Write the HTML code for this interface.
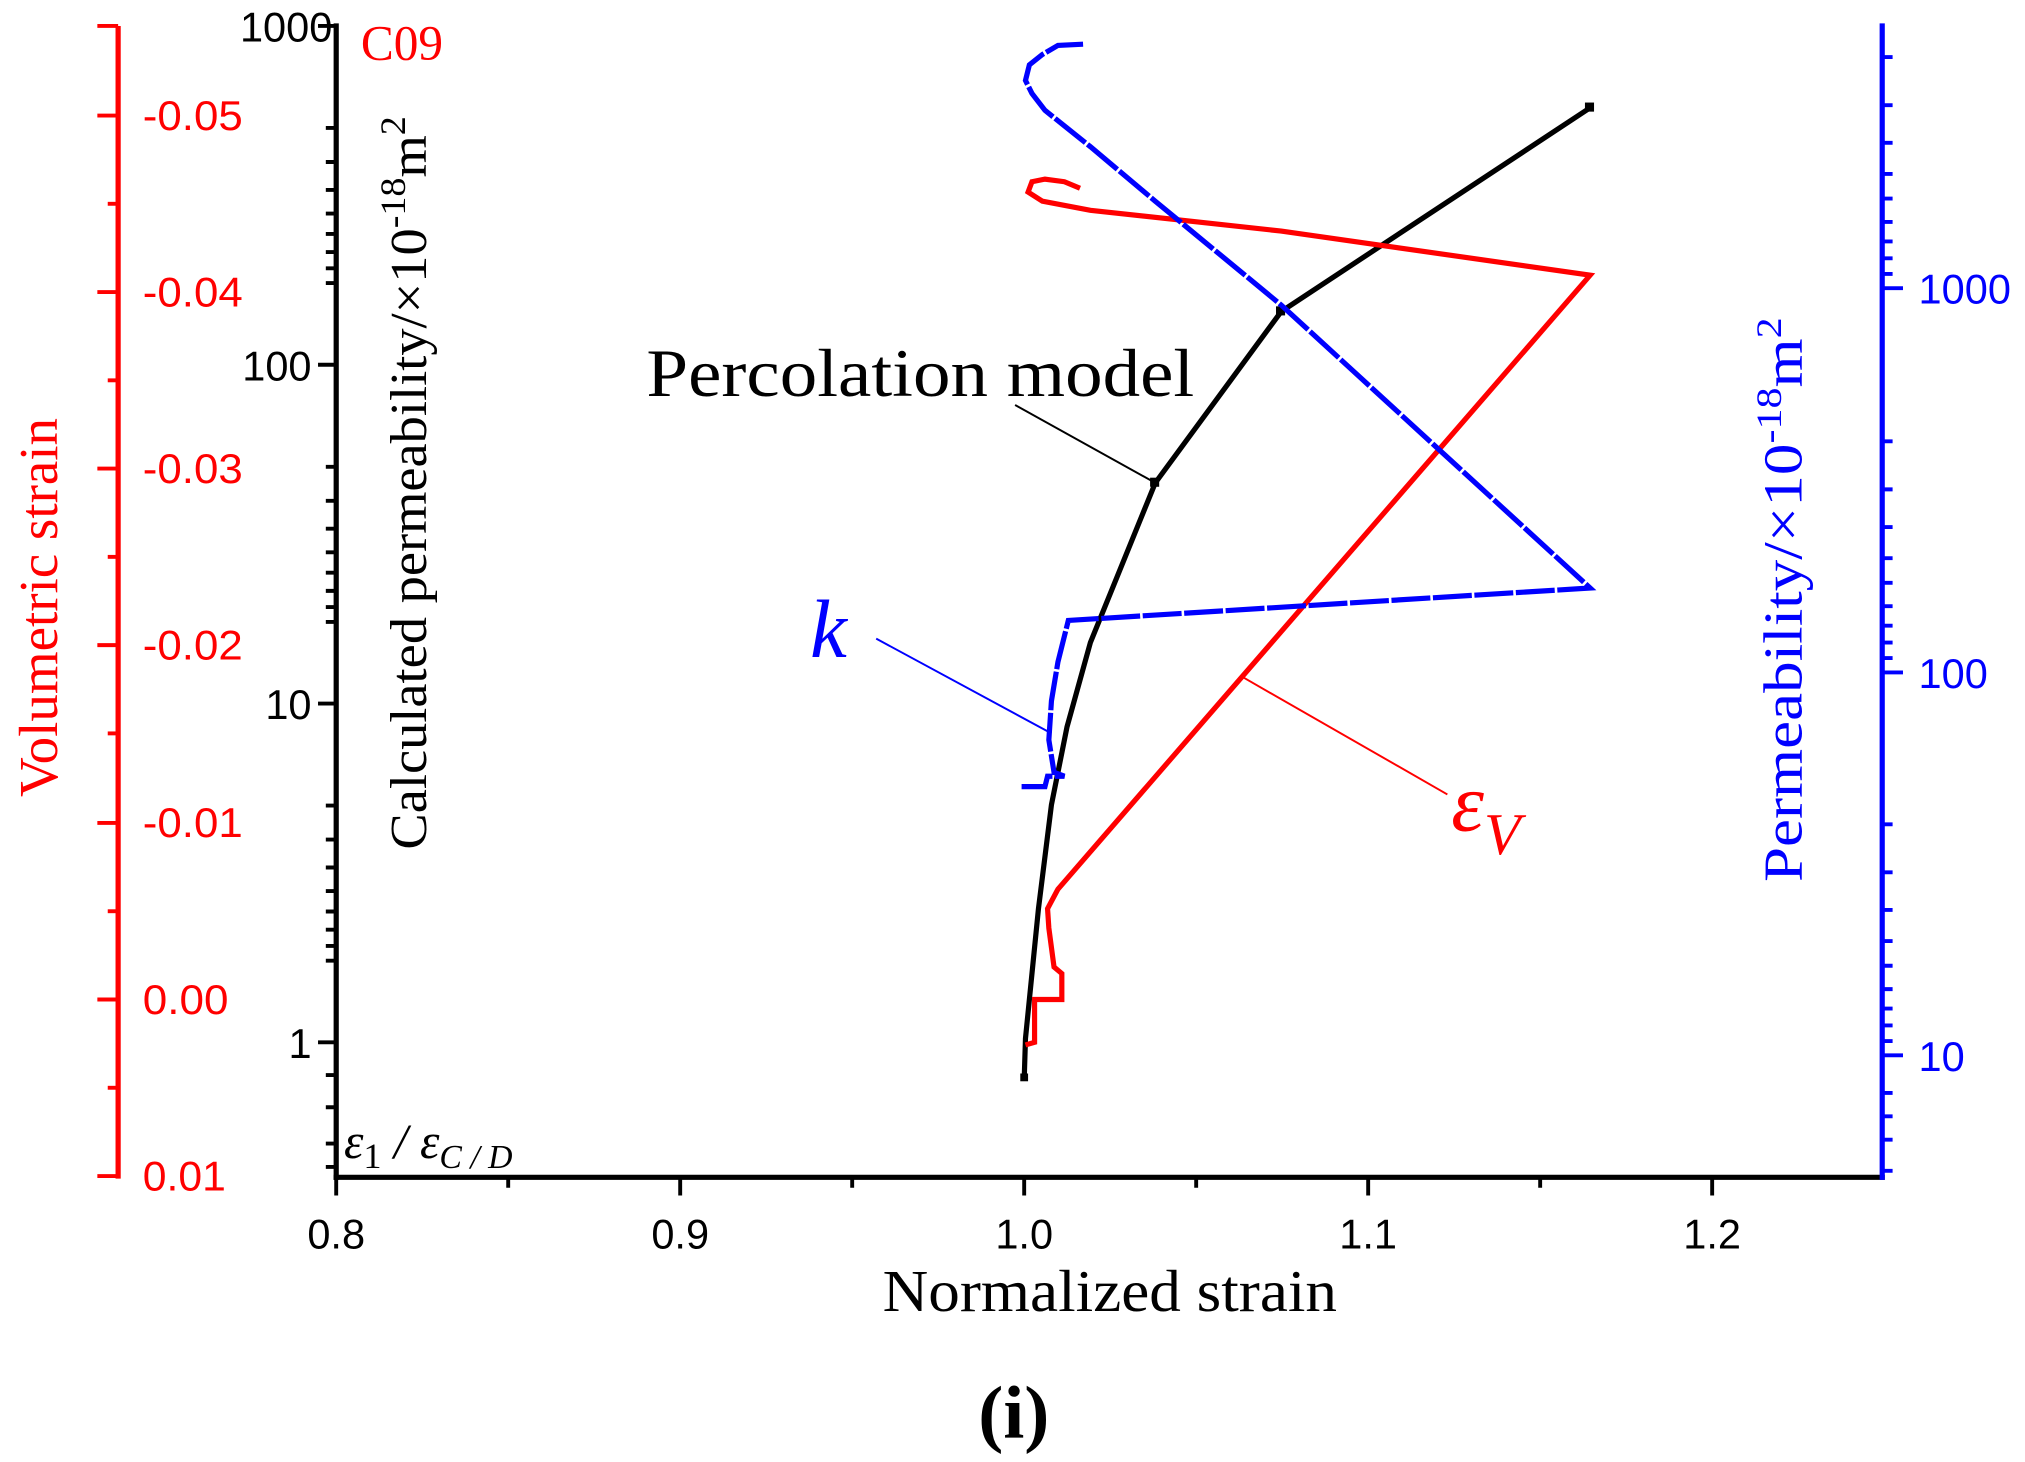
<!DOCTYPE html>
<html><head><meta charset="utf-8"><style>html,body{margin:0;padding:0;background:#fff}svg{display:block}</style></head>
<body>
<svg width="2025" height="1462" viewBox="0 0 1560 1126.3" preserveAspectRatio="none" xmlns="http://www.w3.org/2000/svg">
<g font-family="Liberation Sans, Arial, sans-serif" font-size="32">
<!-- red axis -->
<line x1="91" y1="20" x2="91" y2="908" stroke="#f00" stroke-width="4"/>
<g stroke="#f00" stroke-width="3">
<line x1="75" y1="20" x2="91" y2="20"/>
<line x1="75" y1="89" x2="91" y2="89"/><line x1="83" y1="157" x2="91" y2="157"/>
<line x1="75" y1="225" x2="91" y2="225"/><line x1="83" y1="293" x2="91" y2="293"/>
<line x1="75" y1="361" x2="91" y2="361"/><line x1="83" y1="429" x2="91" y2="429"/>
<line x1="75" y1="497" x2="91" y2="497"/><line x1="83" y1="565" x2="91" y2="565"/>
<line x1="75" y1="634" x2="91" y2="634"/><line x1="83" y1="702" x2="91" y2="702"/>
<line x1="75" y1="770" x2="91" y2="770"/><line x1="83" y1="838" x2="91" y2="838"/>
<line x1="75" y1="906" x2="91" y2="906"/>
</g>
<g fill="#f00">
<text x="110" y="100" textLength="77" lengthAdjust="spacingAndGlyphs">-0.05</text><text x="110" y="236" textLength="77" lengthAdjust="spacingAndGlyphs">-0.04</text><text x="110" y="372" textLength="77" lengthAdjust="spacingAndGlyphs">-0.03</text>
<text x="110" y="508" textLength="77" lengthAdjust="spacingAndGlyphs">-0.02</text><text x="110" y="645" textLength="77" lengthAdjust="spacingAndGlyphs">-0.01</text><text x="110" y="781" textLength="66" lengthAdjust="spacingAndGlyphs">0.00</text><text x="110" y="917" textLength="64" lengthAdjust="spacingAndGlyphs">0.01</text>
</g>
<text transform="translate(44,468) rotate(-90)" fill="#f00" font-family="Liberation Serif, serif" font-size="42" text-anchor="middle" textLength="292" lengthAdjust="spacingAndGlyphs">Volumetric strain</text>

<!-- black left axis -->
<line x1="259" y1="18" x2="259" y2="909" stroke="#000" stroke-width="4"/>
<g stroke="#000" stroke-width="3">
<line x1="245" y1="20" x2="259" y2="20"/><line x1="245" y1="281" x2="259" y2="281"/>
<line x1="245" y1="542" x2="259" y2="542"/><line x1="245" y1="803" x2="259" y2="803"/>
<path d="M251 98.6h8M251 124.8h8M251 146.3h8M251 164.5h8M251 180.2h8M251 194.2h8M251 206.7h8M251 218.1h8 M251 359.6h8M251 385.8h8M251 407.3h8M251 425.5h8M251 441.2h8M251 455.2h8M251 467.7h8M251 479.1h8 M251 620.6h8M251 646.8h8M251 668.3h8M251 686.5h8M251 702.2h8M251 716.2h8M251 728.7h8M251 740.1h8 M251 828.2h8M251 853h8M251 881h8M251 899h8"/>
</g>
<g text-anchor="end"><text x="256" y="32">1000</text><text x="240" y="293">100</text><text x="240" y="554">10</text><text x="240" y="815">1</text></g>
<text transform="translate(328,372) rotate(-90)" font-family="Liberation Serif, serif" font-size="40" text-anchor="middle" textLength="565" lengthAdjust="spacingAndGlyphs">Calculated permeability/×10<tspan dy="-16" font-size="28">-18</tspan><tspan dy="16">m</tspan><tspan dy="-16" font-size="28">2</tspan></text>
<text x="278" y="46" fill="#f00" font-family="Liberation Serif, serif" font-size="38">C09</text>
<text x="265" y="892" font-family="Liberation Serif, serif" font-style="italic" font-size="38">ε<tspan font-style="normal" font-size="28" dy="8">1</tspan><tspan dy="-8"> / ε</tspan><tspan font-size="26" dy="8">C / D</tspan></text>

<!-- x axis -->
<line x1="257" y1="907" x2="1452" y2="907" stroke="#000" stroke-width="4"/>
<g stroke="#000" stroke-width="3">
<path d="M259 907v14M524 907v14M789 907v14M1054 907v14M1319 907v14M391.5 907v8M656.5 907v8M921.5 907v8M1186.5 907v8"/>
</g>
<g text-anchor="middle"><text x="259" y="962">0.8</text><text x="524" y="962">0.9</text><text x="789" y="962">1.0</text><text x="1054" y="962">1.1</text><text x="1319" y="962">1.2</text></g>
<text x="680" y="1010" font-family="Liberation Serif, serif" font-size="46" textLength="350" lengthAdjust="spacingAndGlyphs">Normalized strain</text>
<text x="781" y="1108" font-family="Liberation Serif, serif" font-size="58" font-weight="bold" text-anchor="middle">(i)</text>

<!-- blue axis -->
<line x1="1450" y1="18" x2="1450" y2="909" stroke="#00f" stroke-width="4"/>
<g stroke="#00f" stroke-width="3">
<path d="M1450 222h16M1450 518h16M1450 813h16"/>
<path d="M1450 44h8M1450 81h8M1450 110h8M1450 134h8M1450 153h8M1450 171h8M1450 186h8M1450 199h8M1450 211h8 M1450 340h8M1450 377h8M1450 406h8M1450 430h8M1450 449h8M1450 467h8M1450 482h8M1450 495h8M1450 507h8 M1450 635h8M1450 672h8M1450 701h8M1450 725h8M1450 744h8M1450 762h8M1450 777h8M1450 790h8M1450 802h8 M1450 902h8M1450 878h8M1450 860h8M1450 842h8"/>
</g>
<g fill="#00f"><text x="1478" y="234">1000</text><text x="1478" y="530">100</text><text x="1478" y="825">10</text></g>
<text transform="translate(1388,462) rotate(-90)" fill="#00f" font-family="Liberation Serif, serif" font-size="42" text-anchor="middle" textLength="435" lengthAdjust="spacingAndGlyphs">Permeability/×10<tspan dy="-16" font-size="28">-18</tspan><tspan dy="16">m</tspan><tspan dy="-16" font-size="28">2</tspan></text>

<!-- series -->
<polyline fill="none" stroke="#000" stroke-width="4" points="789,832 790,800 800,700 810,620 822,560 840,495 890,372 987,240 1225,83"/>
<g fill="#000"><rect x="1221" y="79" width="7" height="7"/><rect x="983" y="236" width="7" height="7"/><rect x="886" y="368" width="7" height="7"/><rect x="786" y="827" width="6" height="6"/></g>
<polyline fill="none" stroke="#f00" stroke-width="4" points="790,805 797,803 797,770 818,770 818,750 812,745 808,715 807,700 815,685 1225,212 987,178 840,162 803,155 792,148 795,140 805,138 820,140 832,145"/>
<polyline fill="none" stroke="#00f" stroke-width="4" stroke-dasharray="30 2" points="787,606 805,606 807,598 820,598 812,595 808,570 810,540 815,510 823,478 1225,453 987,235 890,155 840,113 805,85 795,72 790,62 793,50 803,42 815,35 835,34"/>

<!-- annotations -->
<text x="498" y="305" font-family="Liberation Serif, serif" font-size="52" textLength="422" lengthAdjust="spacingAndGlyphs">Percolation model</text>
<line x1="782" y1="312" x2="890" y2="372" stroke="#000" stroke-width="1.5"/>
<text x="624" y="506" fill="#00f" font-family="Liberation Serif, serif" font-style="italic" font-size="64">k</text>
<line x1="675" y1="492" x2="810" y2="565" stroke="#00f" stroke-width="1.5"/>
<text x="1118" y="640" fill="#f00" font-family="Liberation Serif, serif" font-style="italic" font-size="64">ε<tspan font-size="46" dy="18">V</tspan></text>
<line x1="958" y1="522" x2="1115" y2="612" stroke="#f00" stroke-width="1.5"/>
</g>
</svg>
</body></html>
